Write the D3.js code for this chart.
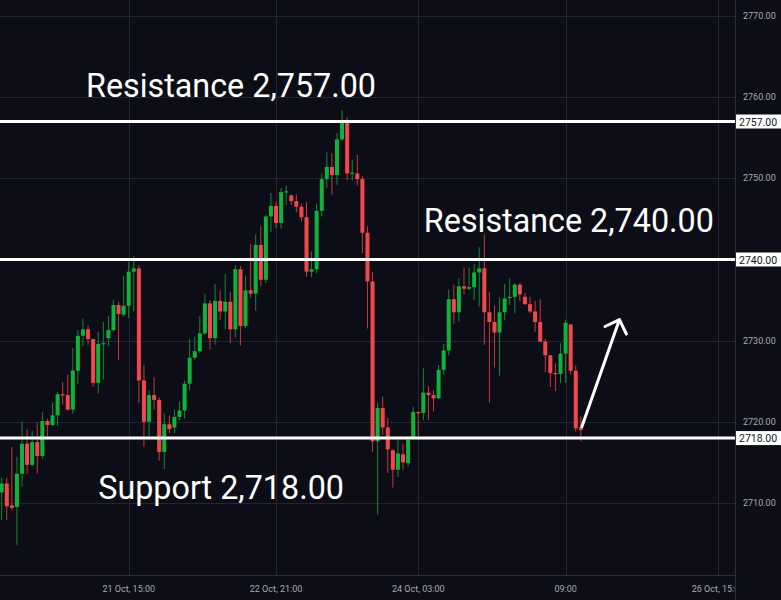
<!DOCTYPE html>
<html>
<head>
<meta charset="utf-8">
<script src="https://cdn.jsdelivr.net/npm/d3@7/dist/d3.min.js"></script>
<style>
  html, body { margin: 0; padding: 0; background: #0c0d17; overflow: hidden; }
  svg { display: block; }
</style>
</head>
<body>
<script>
// ---------------- DATA ----------------
const opens = [2711.3,2712.4,2709.7,2709.5,2713.6,2717.3,2714.7,2717.5,2715.8,2720.1,
2719.6,2720.8,2723.4,2723.3,2721.5,2726.3,2730.6,2731.4,2730.2,2724.8,
2729.6,2730.3,2731.3,2734.4,2733.2,2734.3,2738.5,2738.9,2725.1,2720.0,
2723.3,2722.7,2716.3,2719.7,2719.3,2720.6,2721.4,2724.7,2727.9,2728.7,
2730.9,2734.6,2730.3,2734.9,2733.6,2734.8,2731.4,2738.8,2731.8,2736.2,
2735.8,2741.8,2737.5,2745.3,2746.6,2744.5,2748.3,2747.9,2747.2,2746.5,
2745.2,2738.5,2738.8,2746.0,2749.9,2751.4,2750.4,2754.8,2757.0,2750.6,
2750.6,2749.9,2743.3,2737.3,2717.6,2721.7,2719.3,2716.5,2714.1,2716.0,
2714.9,2718.1,2721.2,2721.1,2723.6,2723.3,2722.9,2726.4,2728.8,2735.1,
2733.5,2736.7,2736.4,2736.6,2738.4,2738.9,2733.5,2732.3,2731.0,2733.5,
2735.3,2735.4,2736.9,2735.4,2734.5,2733.6,2732.3,2729.9,2728.2,2726.0,
2725.9,2728.4,2732.0,2726.3,2719.3];
const highs = [2713.1,2713.1,2716.9,2715.7,2720.0,2719.1,2718.9,2719.9,2721.2,2720.4,
2722.4,2723.7,2724.9,2725.8,2729.1,2731.3,2732.7,2731.9,2730.2,2731.1,
2732.3,2733.0,2735.0,2734.8,2738.0,2739.7,2740.4,2739.3,2727.0,2723.9,
2725.5,2723.0,2721.0,2720.8,2721.5,2722.5,2725.1,2730.2,2730.5,2733.0,
2735.8,2735.0,2737.0,2736.2,2738.2,2736.0,2739.3,2739.2,2738.0,2741.9,
2743.1,2744.1,2745.5,2748.2,2747.1,2748.8,2749.1,2748.0,2748.0,2746.9,
2747.1,2741.0,2746.9,2750.6,2753.2,2753.1,2755.6,2758.4,2757.5,2752.3,
2752.9,2750.3,2744.1,2738.5,2722.4,2723.1,2720.5,2716.6,2717.8,2717.3,
2718.2,2721.8,2721.3,2726.6,2724.4,2723.9,2727.0,2729.6,2736.3,2736.9,
2737.7,2739.0,2739.0,2739.5,2741.5,2743.1,2736.0,2734.3,2735.3,2737.0,
2737.7,2737.1,2737.1,2735.9,2735.4,2734.9,2735.1,2730.2,2728.2,2727.2,
2729.7,2732.6,2732.0,2726.9,2720.7];
const lows = [2707.9,2707.9,2709.1,2704.8,2712.0,2713.6,2714.5,2713.6,2715.4,2718.2,
2719.5,2719.5,2722.1,2721.4,2721.0,2724.7,2729.3,2729.5,2724.3,2723.5,
2725.2,2729.3,2731.1,2727.6,2733.0,2732.8,2733.6,2722.3,2716.9,2718.2,
2721.5,2715.2,2714.2,2718.6,2718.6,2720.2,2720.4,2723.9,2727.6,2728.5,
2730.7,2728.9,2729.5,2732.5,2731.4,2729.7,2730.4,2729.4,2731.5,2735.3,
2733.7,2736.7,2737.1,2743.4,2743.9,2743.8,2746.7,2746.7,2745.8,2744.7,
2737.9,2737.8,2738.3,2745.3,2748.8,2748.0,2749.2,2754.6,2749.8,2749.7,
2749.1,2740.8,2731.5,2716.3,2708.6,2718.4,2713.7,2711.9,2713.2,2714.1,
2714.5,2718.0,2718.2,2720.2,2720.2,2721.3,2722.8,2725.8,2728.2,2732.1,
2732.3,2735.7,2736.2,2735.0,2734.2,2729.5,2722.4,2726.7,2725.7,2732.5,
2734.4,2733.4,2734.9,2734.4,2733.4,2731.1,2729.8,2726.1,2724.3,2723.8,
2724.8,2724.8,2725.8,2718.8,2717.6];
const closes = [2712.4,2709.6,2709.4,2713.6,2717.3,2714.7,2717.5,2715.8,2720.1,2719.6,
2720.8,2723.4,2723.3,2721.5,2726.3,2730.6,2731.4,2730.2,2724.8,2729.6,
2729.7,2731.3,2734.4,2733.3,2734.3,2738.5,2738.9,2725.1,2720.0,2723.3,
2722.7,2716.3,2719.7,2719.1,2720.6,2721.4,2724.7,2727.9,2728.7,2730.9,
2734.6,2730.3,2734.9,2733.6,2734.8,2731.4,2738.8,2731.8,2736.2,2735.8,
2741.8,2737.5,2745.3,2746.6,2744.5,2748.3,2748.4,2747.2,2746.5,2745.2,
2738.5,2738.8,2746.0,2749.9,2751.4,2750.4,2754.8,2757.0,2750.6,2750.7,
2749.9,2743.3,2737.3,2717.6,2721.7,2719.3,2716.6,2714.1,2716.1,2715.0,
2717.8,2721.2,2721.1,2723.6,2723.3,2722.9,2726.4,2728.8,2735.1,2733.5,
2736.7,2736.4,2736.6,2738.4,2738.9,2733.5,2732.3,2731.0,2733.5,2735.2,
2735.4,2736.9,2735.7,2734.5,2733.6,2732.3,2729.9,2728.2,2726.0,2725.9,
2728.4,2732.2,2726.3,2719.2,2719.0];

const xTickIndex = [25, 54, 82, 111, 141];
const xTickLabels = ["21 Oct, 15:00", "22 Oct, 21:00", "24 Oct, 03:00", "09:00", "26 Oct, 15:00"];
const yTickValues = [2710, 2720, 2730, 2740, 2750, 2760, 2770];
const levels = [2757, 2740, 2718];
const levelTexts = ["Resistance 2,757.00", "Resistance 2,740.00", "Support 2,718.00"];
// annotation anchors (candle index, price) for the level captions
const captionIndex = [16.6, 83.1, 19.0];
const captionPrice = [2760.0, 2743.4, 2710.5];
// projected move arrow (candle index, price)
const arrowFrom = [114.2, 2719.4];
const arrowTo = [121.6, 2732.6];

// ---------------- LAYOUT ----------------
const W = 781, H = 600;
const plotRight = 735, plotBottom = 575;
const BG = "#0c0d17", GRID = "#23252f", AXIS = "#2b2d39", TXT = "#a6a9b2";
const UP = "#10b23c", UPW = "#0f8b32", DN = "#f4474b", DNW = "#c43a3d";

const data = opens.map((o, i) => ({ i, o, h: highs[i], l: lows[i], c: closes[i] }));

const x = d3.scaleLinear().domain([0, 141]).range([1.7, 718]);
const y = d3.scaleLinear().domain([2710, 2770]).range([503, 16]);

const svg = d3.select("body").append("svg").attr("width", W).attr("height", H);
svg.append("rect").attr("width", W).attr("height", H).attr("fill", BG);

svg.append("defs").append("clipPath").attr("id", "plot")
  .append("rect").attr("x", 0).attr("y", 0).attr("width", plotRight).attr("height", plotBottom);

const plot = svg.append("g").attr("clip-path", "url(#plot)");

// grid
plot.selectAll("line.hg").data(yTickValues).join("line").attr("class", "hg")
  .attr("x1", 0).attr("x2", plotRight)
  .attr("y1", d => Math.round(y(d)) + 0.5).attr("y2", d => Math.round(y(d)) + 0.5)
  .attr("stroke", GRID).attr("stroke-width", 1);
plot.selectAll("line.vg").data(xTickIndex).join("line").attr("class", "vg")
  .attr("y1", 0).attr("y2", plotBottom)
  .attr("x1", d => Math.round(x(d)) + 0.5).attr("x2", d => Math.round(x(d)) + 0.5)
  .attr("stroke", GRID).attr("stroke-width", 1);

// candles
const bw = 4;
const cg = plot.append("g");
cg.selectAll("line.wick").data(data).join("line").attr("class", "wick")
  .attr("x1", d => x(d.i)).attr("x2", d => x(d.i))
  .attr("y1", d => y(d.h)).attr("y2", d => y(d.l))
  .attr("stroke", d => d.c >= d.o ? UPW : DNW).attr("stroke-width", 1);
cg.selectAll("rect.body").data(data).join("rect").attr("class", "body")
  .attr("x", d => x(d.i) - bw / 2).attr("width", bw)
  .attr("y", d => y(Math.max(d.o, d.c)))
  .attr("height", d => Math.max(1.2, Math.abs(y(d.o) - y(d.c))))
  .attr("fill", d => d.c >= d.o ? UP : DN);

// level lines
plot.selectAll("line.lvl").data(levels).join("line").attr("class", "lvl")
  .attr("x1", 0).attr("x2", plotRight)
  .attr("y1", d => y(d)).attr("y2", d => y(d))
  .attr("stroke", "#ffffff").attr("stroke-width", 3);

// captions
plot.selectAll("text.cap").data(levelTexts).join("text").attr("class", "cap")
  .attr("x", (d, k) => x(captionIndex[k]))
  .attr("y", (d, k) => y(captionPrice[k]))
  .attr("fill", "#ffffff")
  .attr("font-family", "Roboto, 'Noto Sans', sans-serif")
  .attr("font-size", 32.3)
  .text(d => d);

// arrow
const ax0 = x(arrowFrom[0]), ay0 = y(arrowFrom[1]);
const ax1 = x(arrowTo[0]), ay1 = y(arrowTo[1]);
const ang = Math.atan2(ay0 - ay1, ax0 - ax1);
const headLen = 16, spread = Math.PI / 4;
const arrowPath = d3.path();
arrowPath.moveTo(ax0, ay0); arrowPath.lineTo(ax1, ay1);
arrowPath.moveTo(ax1 + headLen * Math.cos(ang + spread), ay1 + headLen * Math.sin(ang + spread));
arrowPath.lineTo(ax1, ay1);
arrowPath.lineTo(ax1 + headLen * Math.cos(ang - spread), ay1 + headLen * Math.sin(ang - spread));
plot.append("path").attr("d", arrowPath.toString())
  .attr("fill", "none").attr("stroke", "#ffffff").attr("stroke-width", 3)
  .attr("stroke-linecap", "round").attr("stroke-linejoin", "round");

// bottom axis
svg.append("line").attr("x1", 0).attr("x2", plotRight)
  .attr("y1", plotBottom + 0.5).attr("y2", plotBottom + 0.5)
  .attr("stroke", AXIS).attr("stroke-width", 1);
svg.selectAll("text.xt").data(xTickIndex).join("text").attr("class", "xt")
  .attr("x", d => x(d)).attr("y", 592)
  .attr("text-anchor", "middle")
  .attr("fill", TXT).attr("font-family", "Roboto, sans-serif").attr("font-size", 9)
  .text((d, k) => xTickLabels[k]);

// right axis panel
svg.append("rect").attr("x", plotRight).attr("y", 0).attr("width", W - plotRight).attr("height", H).attr("fill", BG);
svg.append("line").attr("x1", plotRight + 0.5).attr("x2", plotRight + 0.5).attr("y1", 0).attr("y2", H)
  .attr("stroke", AXIS).attr("stroke-width", 1);
// tick labels hidden behind a level box are not drawn (as in the reference)
svg.selectAll("text.yt").data(yTickValues.filter(v => !levels.some(l => Math.abs(y(l) - y(v)) < 12)))
  .join("text").attr("class", "yt")
  .attr("x", 743).attr("y", d => y(d) + 3)
  .attr("fill", TXT).attr("font-family", "Roboto, sans-serif").attr("font-size", 9)
  .text(d => d.toFixed(2));

// level price boxes
const lb = svg.selectAll("g.lb").data(levels).join("g").attr("class", "lb");
lb.append("rect").attr("x", plotRight + 1).attr("width", W - plotRight - 1)
  .attr("y", d => y(d) - 7).attr("height", 14).attr("fill", "#ffffff");
lb.append("text").attr("x", 739).attr("y", d => y(d) + 4)
  .attr("fill", "#131722").attr("font-family", "Roboto, sans-serif").attr("font-size", 10.5)
  .text(d => d.toFixed(2));
</script>
</body>
</html>
